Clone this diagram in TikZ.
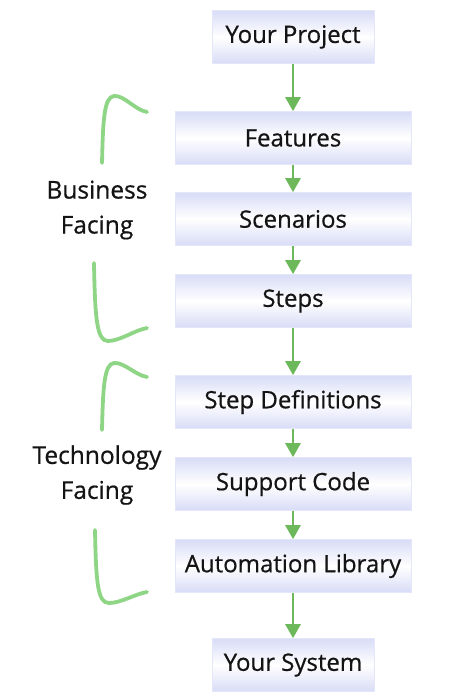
\documentclass[tikz,border=0pt]{standalone}
\usepackage{fontspec}
\setmainfont{Open Sans}[FakeBold=0.6]
\usetikzlibrary{arrows.meta}
\definecolor{boxedge}{HTML}{D8DCF6}
\definecolor{arrowgreen}{HTML}{6DB85A}
\definecolor{brgreen}{HTML}{8ED585}
\definecolor{txt}{HTML}{141414}
\tikzset{
  box/.style={minimum width=236pt, minimum height=53pt, inner sep=0pt,
    top color=boxedge, bottom color=boxedge, middle color=white,
    draw=boxedge!70, line width=0.6pt, font=\fontsize{24}{28}\selectfont, text=txt},
  endbox/.style={box, minimum width=162pt},
  flow/.style={draw=arrowgreen, line width=2.8pt, -{Triangle[width=15pt,length=14pt]}},
  brace/.style={draw=brgreen, line width=3.8pt, line cap=round},
  side/.style={font=\fontsize{24.5}{35}\selectfont, text=txt, align=center}
}
\begin{document}
\begin{tikzpicture}[x=1pt,y=-1pt]
\useasboundingbox (0,0) rectangle (474,695);
\node[endbox] (proj) at (293,37) {Your Project};
\node[box] (feat) at (293,138) {Features};
\node[box] (scen) at (293,219) {Scenarios};
\node[box] (steps) at (293,301) {Steps};
\node[box] (defs) at (293,402) {Step Definitions};
\node[box] (supp) at (293,484) {Support Code};
\node[box] (auto) at (293,566) {Automation Library};
\node[endbox] (sys) at (293,665) {Your System};
\draw[flow] (proj) -- (feat);
\draw[flow] (feat) -- (scen);
\draw[flow] (scen) -- (steps);
\draw[flow] (steps) -- (defs);
\draw[flow] (defs) -- (supp);
\draw[flow] (supp) -- (auto);
\draw[flow] (auto) -- (sys);
\node[side] (bus) at (97,210) {Business\\Facing};
\node[side] (tech) at (97,475) {Technology\\Facing};
\draw[brace] (102,163) .. controls (103,120) and (104,97) .. (114,96) .. controls (124,95) and (135,110) .. (147,112);
\draw[brace] (94,263) .. controls (95,320) and (97,341) .. (108,341) .. controls (120,341) and (135,330) .. (147,328);
\draw[brace] (102,430) .. controls (103,388) and (104,364) .. (114,363) .. controls (124,362) and (135,375) .. (147,377);
\draw[brace] (95,530) .. controls (96,585) and (98,603) .. (109,603) .. controls (121,603) and (135,594) .. (147,592);
\end{tikzpicture}
\end{document}
